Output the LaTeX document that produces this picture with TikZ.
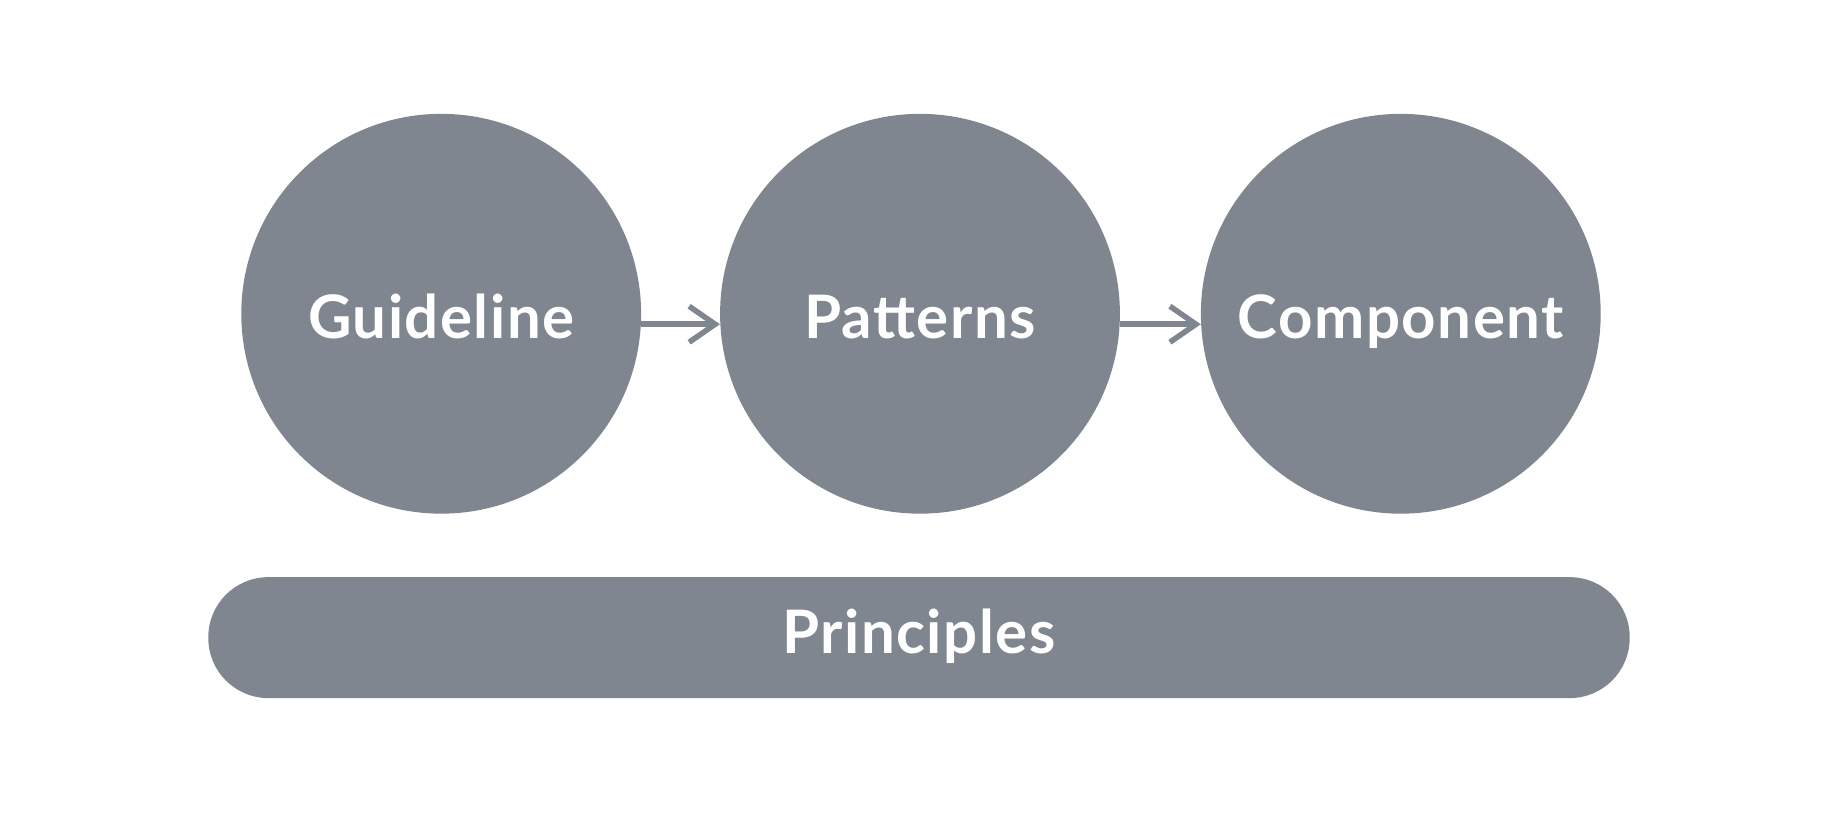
\documentclass[tikz,border=0pt]{standalone}
\usepackage{fontspec}
\setmainfont{Lato}[LetterSpace=2.5]
\usepackage{xcolor}
\usetikzlibrary{arrows.meta}
\colorlet{bordercolor}{white}
\definecolor{bubblecolor}{RGB}{128, 134, 143}

\tikzset{
        bubble/.style={circle, fill=bubblecolor, minimum size=200pt, inner sep=0pt,
                text=white, font=\bfseries\fontsize{30}{36}\selectfont,
                text height=24.5pt, text depth=0pt},
        band/.style={rectangle, rounded corners=30pt, fill=bubblecolor,
                minimum width=711pt, minimum height=60.5pt, inner sep=0pt,
                text=white, font=\bfseries\fontsize{30}{36}\selectfont,
                text height=16pt, text depth=0pt},
        flow/.style={draw=bubblecolor, line width=2.75pt,
                -{Straight Barb[length=13pt, width=18pt, sharp]}},
}

\begin{document}
\begin{tikzpicture}[x=0.5pt, y=-0.5pt]
        \useasboundingbox[draw=bordercolor] (0, 0) rectangle (1842, 812); % pixel grid of the page

        \node[bubble] (guideline) at (441, 313.5) {Guideline};
        \node[bubble] (patterns) at (920, 313.5) {Patterns};
        \node[bubble] (component) at (1401, 313.5) {Component};

        \node[band] (principles) at (919, 637.5) {Principles};

        % Arrows sit a little below the centres
        \draw[flow] (guideline.-3) -- (patterns.183);
        \draw[flow] (patterns.-3) -- (component.183);
\end{tikzpicture}
\end{document}
